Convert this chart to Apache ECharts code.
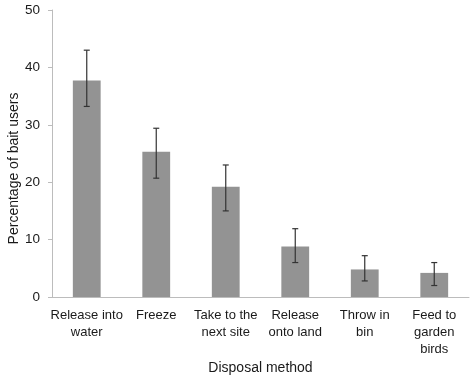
<!DOCTYPE html>
<html><head><meta charset="utf-8">
<script src="https://cdn.jsdelivr.net/npm/echarts@6/dist/echarts.min.js"></script>
<style>html,body{margin:0;padding:0;background:#fff}#c{width:474px;height:380px}</style>
</head><body><div id="c"></div>
<script>
const categories = ["Release into\nwater", "Freeze", "Take to the\nnext site", "Release\nonto land", "Throw in\nbin", "Feed to\ngarden\nbirds"];
const values = [37.7, 25.3, 19.2, 8.8, 4.8, 4.2];
const errLow = [33.2, 20.7, 15.0, 6.0, 2.8, 2.0];
const errHigh = [43.0, 29.4, 23.0, 11.9, 7.2, 6.0];
const yTicks = [0, 10, 20, 30, 40, 50];

const chart = echarts.init(document.getElementById('c'));
const font = '"Liberation Sans", Arial, sans-serif';
chart.setOption({
  animation: false,
  grid: { left: 52, right: 5, top: 10, bottom: 83, containLabel: false, outerBoundsMode: 'none' },
  xAxis: {
    type: 'category', data: categories,
    name: 'Disposal method', nameLocation: 'middle', nameGap: 64, nameMoveOverlap: false,
    nameTextStyle: { fontFamily: font, fontSize: 14, color: '#1a1a1a' },
    axisLine: { lineStyle: { color: '#bcbcbc' } },
    axisTick: { length: 4, lineStyle: { color: '#bcbcbc' } },
    axisLabel: { fontFamily: font, fontSize: 13, color: '#1a1a1a', lineHeight: 17, margin: 10, interval: 0 }
  },
  yAxis: {
    type: 'value', min: yTicks[0], max: yTicks[yTicks.length - 1], interval: 10,
    name: 'Percentage of bait users', nameLocation: 'middle', nameGap: 31, nameMoveOverlap: false,
    nameTextStyle: { fontFamily: font, fontSize: 14, color: '#1a1a1a', padding: [0, 30, 0, 0] },
    axisLine: { show: true, lineStyle: { color: '#bcbcbc' } },
    axisTick: { show: true, length: 4, lineStyle: { color: '#bcbcbc' } },
    splitLine: { show: false },
    axisLabel: { fontFamily: font, fontSize: 13.5, color: '#1a1a1a', margin: 12 }
  },
  series: [
    { type: 'bar', data: values, barWidth: '40%', itemStyle: { color: '#939393' } },
    {
      type: 'custom',
      data: categories.map((c, i) => [i, errLow[i], errHigh[i]]),
      renderItem: function (params, api) {
        const lo = api.coord([api.value(0), api.value(1)]);
        const hi = api.coord([api.value(0), api.value(2)]);
        const hw = 3;
        const st = { stroke: '#333', lineWidth: 1.2 };
        return { type: 'group', children: [
          { type: 'line', shape: { x1: hi[0], y1: hi[1], x2: lo[0], y2: lo[1] }, style: st },
          { type: 'line', shape: { x1: hi[0] - hw, y1: hi[1], x2: hi[0] + hw, y2: hi[1] }, style: st },
          { type: 'line', shape: { x1: lo[0] - hw, y1: lo[1], x2: lo[0] + hw, y2: lo[1] }, style: st }
        ]};
      },
      z: 10
    }
  ]
});
</script></body></html>
